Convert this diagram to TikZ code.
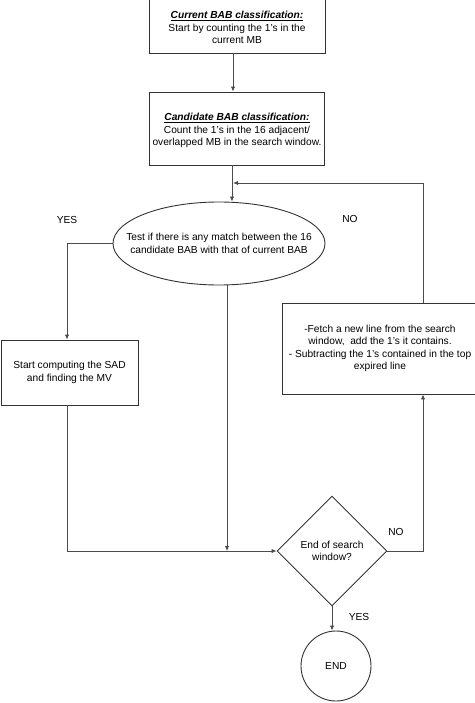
\documentclass[tikz,border=0pt]{standalone}
\usepackage{fontspec}
\setmainfont{Liberation Sans}
\usetikzlibrary{shapes.geometric,arrows.meta}
\begin{document}
\begin{tikzpicture}[x=1pt,y=-1pt,
  every node/.style={font=\fontsize{10.2}{12.3}\selectfont, align=center, inner sep=0pt},
  box/.style={draw=black!80, line width=0.9pt, rectangle},
  conn/.style={draw=black!70, line width=0.9pt},
  arr/.style={conn, -{Latex[length=5pt,width=4.5pt]}},
  lbl/.style={font=\fontsize{10.2}{12.3}\selectfont}]
\useasboundingbox (0,0) rectangle (474,703);
\node[box, minimum width=176pt, minimum height=60pt] (b1) at (237,23) {};
\node (b1t) at (237,27.5) {\underline{\textbf{\textit{Current BAB classification:}}}\\Start by counting the 1's in the\\current MB};
\node[box, minimum width=175pt, minimum height=73pt] (b2) at (236.5,128.5) {};
\node (b2t) at (237,130.5) {\underline{\textbf{\textit{Candidate BAB classification:}}}\\Count the 1's in the 16 adjacent/\\overlapped MB in the search window.};
\node[draw=black!80, line width=0.9pt, ellipse, minimum width=212pt, minimum height=83pt] (ell) at (219,243.5) {};
\node (ellt) at (219,243.5) {Test if there is any match between the 16\\candidate BAB with that of current BAB};
\node[box, minimum width=137pt, minimum height=65pt] (b3) at (69.5,372.5) {Start computing the SAD\\and finding the MV};
\node[box, minimum width=196pt, minimum height=91pt] (b4) at (380,348.5) {-Fetch a new line from the search\\window,\ \ add the 1's it contains.\\- Subtracting the 1's contained in the top\\expired line};
\node[draw=black!80, line width=0.9pt, diamond, minimum width=110pt, minimum height=110pt] (dia) at (332,551) {};
\node (diat) at (332,550.5) {End of search\\window?};
\node[draw=black!80, line width=0.9pt, circle, minimum size=70pt] (endc) at (336,666) {END};
\coordinate (m) at (232,183);
\coordinate (yl) at (67,243.5);
\coordinate (r) at (423,183);
\node[lbl] (yes1) at (67,220) {YES};
\node[lbl] (no1) at (350,219) {NO};
\node[lbl] (no2) at (396,532) {NO};
\node[lbl] (yes2) at (359,617) {YES};
\draw[arr] ([xshift=-4pt]b1.south) -- ([xshift=-4pt]b1.south |- b2.north);
\draw[conn] (b2.south -| m) -- (m);
\draw[arr] (m) -- (ell.north -| m);
\draw[arr] (b4.north -| r) -- (r) -- ([xshift=1pt]m);
\draw[arr] (ell.west) -- (yl) -- (yl |- b3.north);
\draw[arr] (b3.south -| yl) |- (dia.west);
\draw[arr] ([xshift=8pt]ell.south) -- ([xshift=8pt]ell.south |- dia.west);
\draw[arr] (dia.east) -| (b4.south -| r);
\draw[arr] (dia.south) -- (dia.south |- endc.north);
\end{tikzpicture}
\end{document}
